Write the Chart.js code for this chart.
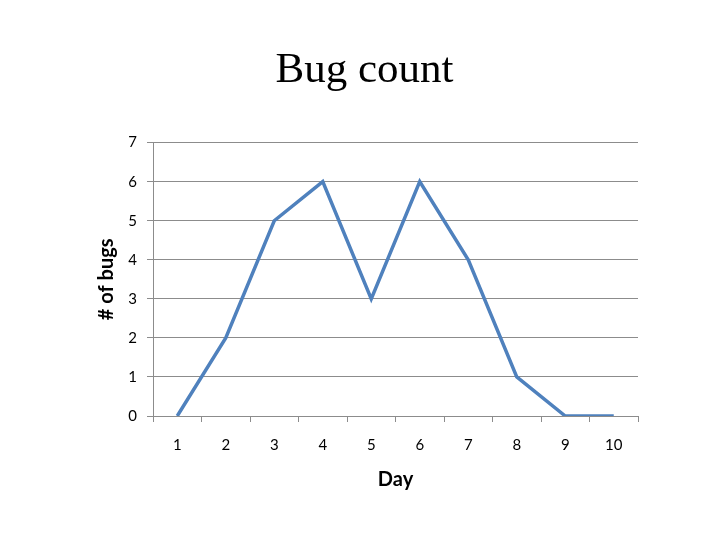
<!DOCTYPE html>
<html>
<head>
<meta charset="utf-8">
<script src="https://cdn.jsdelivr.net/npm/chart.js@4"></script>
<style>
  html, body { margin: 0; padding: 0; background: #fff; }
  #wrap { width: 728px; height: 546px; }
</style>
</head>
<body>
<div id="wrap"><canvas id="bug-chart"></canvas></div>
<script>
'use strict';

const days = ['1', '2', '3', '4', '5', '6', '7', '8', '9', '10'];
const bugs = [0, 2, 5, 6, 3, 6, 4, 1, 0, 0];
const yTicks = [0, 1, 2, 3, 4, 5, 6, 7];

const gridGray = '#8c8c8c';
const tickFont = { family: 'Lato, "Open Sans", sans-serif', size: 15 };

const ctx = document.getElementById('bug-chart').getContext('2d');
const chart = new Chart(ctx, {
  type: 'line',
  data: {
    labels: days,
    datasets: [{
      label: 'Bugs',
      data: bugs,
      borderColor: '#4f81bd',
      borderWidth: 3.5,
      pointRadius: 0,
      tension: 0,
      fill: false
    }]
  },
  options: {
    responsive: true,
    maintainAspectRatio: false,
    animation: false,
    layout: { padding: { left: 91, right: 90, top: 0, bottom: 50 } },
    plugins: {
      legend: { display: false },
      tooltip: { enabled: false },
      title: {
        display: true,
        text: 'Bug count',
        color: '#000',
        font: { family: '"Liberation Serif", serif', size: 43, weight: 'normal' },
        padding: { top: 45, bottom: 46 }
      }
    },
    scales: {
      x: {
        offset: true,
        grid: { drawOnChartArea: false, drawTicks: true, tickLength: 6, color: gridGray, offset: true },
        border: { display: true, color: gridGray },
        ticks: { color: '#000', font: tickFont, padding: 14, maxRotation: 0 },
        title: {
          display: true,
          text: 'Day',
          color: '#000',
          font: { family: 'Lato, "Open Sans", sans-serif', size: 20, weight: 'bold' }
        },
        afterFit: function (scale) { scale.height = 80; }
      },
      y: {
        min: 0,
        max: 7,
        afterBuildTicks: function (scale) {
          scale.ticks = yTicks.map(v => ({ value: v }));
        },
        grid: { color: gridGray, tickLength: 6 },
        border: { display: true, color: gridGray },
        ticks: { color: '#000', font: tickFont, padding: 10 },
        title: {
          display: true,
          text: '# of bugs',
          color: '#000',
          font: { family: 'Lato, "Open Sans", sans-serif', size: 20, weight: 'bold' }
        },
        afterFit: function (scale) { scale.width = 62; }
      }
    }
  }
});
</script>
</body>
</html>
